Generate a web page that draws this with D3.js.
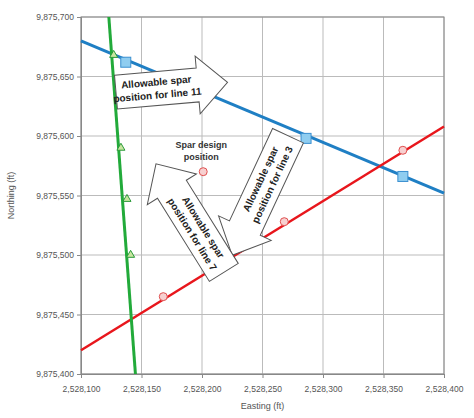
<!DOCTYPE html>
<html><head><meta charset="utf-8">
<script src="https://cdn.jsdelivr.net/npm/d3@7"></script>
<style>body{margin:0;background:#fff;font-family:"Liberation Sans",Arial,sans-serif}</style>
</head><body><svg id="c" width="474" height="418"></svg>
<script>
var xTicks = [2528100, 2528150, 2528200, 2528250, 2528300, 2528350, 2528400];
var yTicks = [9875400, 9875450, 9875500, 9875550, 9875600, 9875650, 9875700];
var blueLine = [[2528100, 9875680], [2528400, 9875552]];
var blueMarks = [[2528137, 9875662], [2528286, 9875598], [2528366, 9875566]];
var redLine = [[2528100, 9875420], [2528400, 9875608]];
var redMarks = [[2528168, 9875465], [2528268, 9875528], [2528366, 9875588]];
var greenLine = [[2528123, 9875700], [2528145, 9875400]];
var greenMarks = [[2528127, 9875668], [2528133, 9875590], [2528138, 9875547], [2528141, 9875500]];
var sparDesign = [2528201, 9875570];
var arrows = [
  {x: 2528175, y: 9875641, angle: -5, dir: 1, len: 112, lines: ['Allowable spar', 'position for line 11']},
  {x: 2528248, y: 9875550, angle: -65, dir: -1, len: 132, lines: ['Allowable spar', 'position for line 3']},
  {x: 2528190, y: 9875531, angle: 58, dir: -1, len: 128, lines: ['Allowable spar', 'position for line 7']}
];

var m = {left: 81, right: 444, top: 17, bottom: 374};
var svg = d3.select('#c');
var x = d3.scaleLinear().domain([2528100, 2528400]).range([m.left, m.right]);
var y = d3.scaleLinear().domain([9875400, 9875700]).range([m.bottom, m.top]);
var fmt = d3.format(',');

// grid
svg.append('g').selectAll('line').data(xTicks).enter().append('line')
  .attr('x1', x).attr('x2', x).attr('y1', m.top).attr('y2', m.bottom)
  .attr('stroke', '#bbb').attr('stroke-width', 1);
svg.append('g').selectAll('line').data(yTicks).enter().append('line')
  .attr('y1', y).attr('y2', y).attr('x1', m.left).attr('x2', m.right)
  .attr('stroke', '#bbb').attr('stroke-width', 1);

var xAxis = svg.append('g').attr('transform', 'translate(0,' + m.bottom + ')')
  .call(d3.axisBottom(x).tickValues(xTicks).tickFormat(fmt).tickSize(4).tickPadding(8));
var yAxis = svg.append('g').attr('transform', 'translate(' + m.left + ',0)')
  .call(d3.axisLeft(y).tickValues(yTicks).tickFormat(fmt).tickSize(4).tickPadding(3));
[xAxis, yAxis].forEach(function(a) {
  a.selectAll('text').attr('fill', '#555').style('font-size', '8.5px');
  a.selectAll('line,path').attr('stroke', '#888');
});
svg.append('rect').attr('x', m.left).attr('y', m.top).attr('width', m.right - m.left)
  .attr('height', m.bottom - m.top).attr('fill', 'none').attr('stroke', '#888');

svg.append('text').attr('x', (m.left + m.right) / 2).attr('y', 409).attr('text-anchor', 'middle')
  .attr('fill', '#555').style('font-size', '9px').text('Easting (ft)');
svg.append('text').attr('transform', 'translate(14,' + (m.top + m.bottom) / 2 + ') rotate(-90)')
  .attr('text-anchor', 'middle').attr('fill', '#555').style('font-size', '9px').text('Northing (ft)');

var line = d3.line().x(function(d) { return x(d[0]); }).y(function(d) { return y(d[1]); });
svg.append('path').datum(blueLine).attr('d', line).attr('stroke', '#1f7fc4').attr('stroke-width', 3).attr('fill', 'none');
svg.append('path').datum(redLine).attr('d', line).attr('stroke', '#e8161c').attr('stroke-width', 2.5).attr('fill', 'none');
svg.append('path').datum(greenLine).attr('d', line).attr('stroke', '#22aa3a').attr('stroke-width', 3).attr('fill', 'none');

svg.selectAll('.sq').data(blueMarks).enter().append('rect')
  .attr('x', function(d) { return x(d[0]) - 5; }).attr('y', function(d) { return y(d[1]) - 5; })
  .attr('width', 10).attr('height', 10).attr('fill', '#8fcdf0').attr('stroke', '#3a8fd0');
svg.selectAll('.ci').data(redMarks.concat([sparDesign])).enter().append('circle')
  .attr('cx', function(d) { return x(d[0]); }).attr('cy', function(d) { return y(d[1]); })
  .attr('r', 4).attr('fill', '#f7d0d0').attr('stroke', '#e05050');
svg.selectAll('.tr').data(greenMarks).enter().append('path')
  .attr('d', d3.symbol().type(d3.symbolTriangle).size(28))
  .attr('transform', function(d) { return 'translate(' + x(d[0]) + ',' + y(d[1]) + ')'; })
  .attr('fill', '#c8e6a0').attr('stroke', '#2a9a3a');

var lbl = svg.append('text').attr('text-anchor', 'middle').attr('fill', '#333')
  .style('font-size', '9px').style('font-weight', 'bold');
lbl.append('tspan').attr('x', x(sparDesign[0]) - 2).attr('y', y(sparDesign[1]) - 24).text('Spar design');
lbl.append('tspan').attr('x', x(sparDesign[0]) - 2).attr('y', y(sparDesign[1]) - 12).text('position');

// arrows
arrows.forEach(function(a) {
  var L = a.len / 2, bh = 17, hh = 29, hl = 30;
  var pts = [[-L, -bh], [L - hl, -bh], [L - hl, -hh], [L, 0], [L - hl, hh], [L - hl, bh], [-L, bh]];
  var g = svg.append('g').attr('transform', 'translate(' + x(a.x) + ',' + y(a.y) + ') rotate(' + a.angle + ')');
  g.append('path').attr('d', 'M' + pts.map(function(p) { return [p[0] * a.dir, p[1]]; }).join('L') + 'Z')
    .attr('fill', '#fff').attr('stroke', '#555').attr('stroke-width', 1);
  var t = g.append('text').attr('text-anchor', 'middle').attr('fill', '#222')
    .style('font-size', '10px').style('font-weight', 'bold');
  a.lines.forEach(function(s, i) {
    t.append('tspan').attr('x', -a.dir * hl / 2).attr('y', -3 + i * 13).text(s);
  });
});
</script></body></html>
